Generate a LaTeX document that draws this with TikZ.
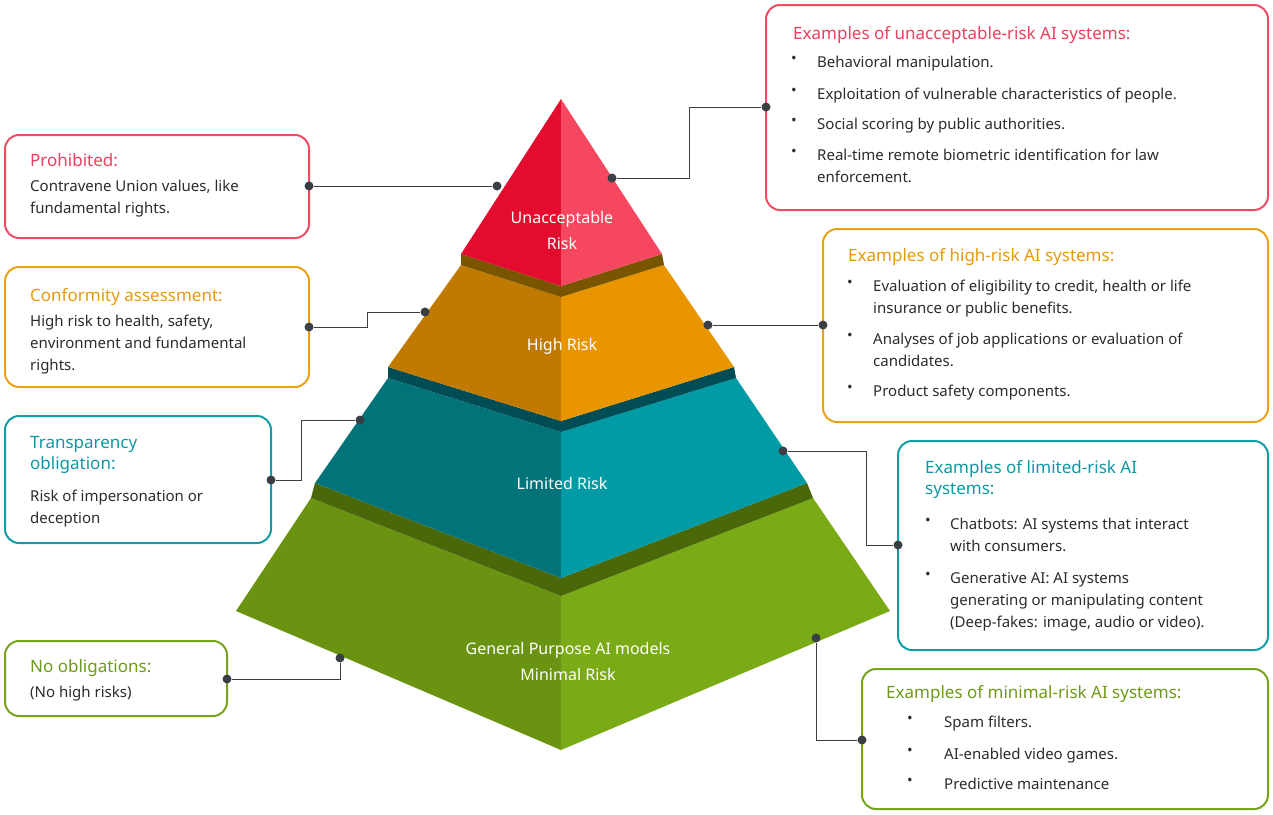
\documentclass[tikz,border=0pt]{standalone}
\usepackage{fontspec}
\setmainfont{Noto Sans}
\begin{document}
\definecolor{cR}{HTML}{EE4B66}\definecolor{cO}{HTML}{E8A21A}\definecolor{cT}{HTML}{119CA6}\definecolor{cG}{HTML}{76A41C}
\definecolor{tR}{HTML}{EE3E5E}\definecolor{tO}{HTML}{E39A0E}\definecolor{tT}{HTML}{0E97A2}\definecolor{tG}{HTML}{6D9A17}
\definecolor{ln}{HTML}{3A3F45}\definecolor{tx}{HTML}{2B2B2B}
\begin{tikzpicture}[x=1pt,y=-1pt,
 box/.style={draw=#1,line width=2pt,rounded corners=14pt},
 ttl/.style={anchor=north west,inner sep=0,font=\fontsize{17}{21}\selectfont\bfseries,text=#1,align=left},
 bd/.style={anchor=north west,inner sep=0,font=\fontsize{15}{22}\selectfont,text=tx,align=left},
 bul/.style={anchor=north west,inner sep=0,font=\fontsize{15}{22}\selectfont,text=tx},
 lbl/.style={font=\fontsize{16}{26}\selectfont\bfseries,text=white,align=center},
 con/.style={draw=ln,line width=1pt},
 dot/.style={circle,fill=ln,inner sep=0,minimum size=9pt}]
\useasboundingbox (0,0) rectangle (1273,814);
% pyramid
\fill[fill={rgb,255:red,106;green,147;blue,17}] (311,498) -- (561,596) -- (561,750) -- (236,611) -- cycle;
\fill[fill={rgb,255:red,122;green,170;blue,21}] (813,498) -- (561,596) -- (561,750) -- (890,611) -- cycle;
\fill[fill={rgb,255:red,74;green,104;blue,10}] (315,483) -- (561,578) -- (807,483) -- (813,498) -- (561,596) -- (311,498) -- cycle;
\fill[fill={rgb,255:red,3;green,115;blue,122}] (388,378) -- (561,432) -- (561,578) -- (315,483) -- cycle;
\fill[fill={rgb,255:red,0;green,155;blue,165}] (736,378) -- (561,432) -- (561,578) -- (807,483) -- cycle;
\fill[fill={rgb,255:red,0;green,77;blue,85}] (388,367) -- (561,421) -- (734,367) -- (736,378) -- (561,432) -- (388,378) -- cycle;
\fill[fill={rgb,255:red,192;green,122;blue,0}] (461,265) -- (561,297) -- (561,421) -- (388,367) -- cycle;
\fill[fill={rgb,255:red,232;green,149;blue,0}] (664,265) -- (561,297) -- (561,421) -- (734,367) -- cycle;
\fill[fill={rgb,255:red,122;green,85;blue,0}] (461,254) -- (561,286) -- (662,254) -- (664,265) -- (561,297) -- (461,265) -- cycle;
\fill[fill={rgb,255:red,227;green,11;blue,46}] (561,99) -- (561,286) -- (461,254) -- cycle;
\fill[fill={rgb,255:red,245;green,71;blue,95}] (561,99) -- (561,286) -- (662,254) -- cycle;
\node[lbl] (lu) at (562,230) {Unacceptable\\Risk};
\node[lbl] (lh) at (562,346) {High Risk};
\node[lbl] (ll) at (562,483) {Limited Risk};
\node[lbl] (lm) at (568,661) {General Purpose AI models\\Minimal Risk};
% boxes
\draw[box=cR] (5,135) rectangle (309,238);
\draw[box=cO] (5,267) rectangle (309,387);
\draw[box=cT] (5,416) rectangle (271,543);
\draw[box=cG] (5,641) rectangle (227,716);
\draw[box=cR] (766,5) rectangle (1268,210);
\draw[box=cO] (823,229) rectangle (1268,422);
\draw[box=cT] (898,441) rectangle (1268,650);
\draw[box=cG] (862,669) rectangle (1268,809);
% left texts
\node[ttl=tR] (t1) at (30,153) {Prohibited:};
\node[bd] (b1) at (30,180) {Contravene Union values, like\\fundamental rights.};
\node[ttl=tO] (t2) at (30,288) {Conformity assessment:};
\node[bd] (b2) at (30,315) {High risk to health, safety,\\environment and fundamental\\rights.};
\node[ttl=tT] (t3) at (30,436) {Transparency\\obligation:};
\node[bd] (b3) at (30,490) {Risk of impersonation or\\deception};
\node[ttl=tG] (t4) at (30,659) {No obligations:};
\node[bd] (b4) at (30,686) {(No high risks)};
% right texts
\node[ttl=tR] (t5) at (793,26) {Examples of unacceptable-risk AI systems:};
\foreach \y/\t [count=\i] in {56/Behavioral manipulation.,88/Exploitation of vulnerable characteristics of people.,118/Social scoring by public authorities.,149/{Real-time remote biometric identification for law\\enforcement.}}{
 \node[bul] (u\i) at (791,\y) {•}; \node[bd] (v\i) at (817,\y) {\t};}
\node[ttl=tO] (t6) at (848,248) {Examples of high-risk AI systems:};
\foreach \y/\t [count=\i] in {280/{Evaluation of eligibility to credit, health or life\\insurance or public benefits.},333/{Analyses of job applications or evaluation of\\candidates.},385/Product safety components.}{
 \node[bul] (h\i) at (847,\y) {•}; \node[bd] (k\i) at (873,\y) {\t};}
\node[ttl=tT] (t7) at (925,460) {Examples of limited-risk AI\\systems:};
\node[bul] (l1) at (925,518) {•}; \node[bd] (m1) at (950,518) {\textbf{Chatbots:} AI systems that interact\\with consumers.};
\node[bul] (l2) at (925,572) {•}; \node[bd] (m2) at (950,572) {\textbf{Generative AI:} AI systems\\generating or manipulating content\\(Deep-fakes: image, audio or video).};
\node[ttl=tG] (t8) at (886,685) {Examples of minimal-risk AI systems:};
\foreach \y/\t [count=\i] in {716/Spam filters.,748/AI-enabled video games.,778/Predictive maintenance}{
 \node[bul] (g\i) at (907,\y) {•}; \node[bd] (n\i) at (944,\y) {\t};}
% connectors
\node[dot] (a1) at (309,186) {}; \node[dot] (a2) at (497,186) {};
\draw[con] (a1) -- (a2);
\node[dot] (c1) at (612,178) {}; \node[dot] (c2) at (766,107) {};
\draw[con] (c1) -- (689,178) -- (689,107) -- (c2);
\node[dot] (d1) at (309,327) {}; \node[dot] (d2) at (425,312) {};
\draw[con] (d1) -- (367,327) -- (367,312) -- (d2);
\node[dot] (e1) at (708,325) {}; \node[dot] (e2) at (823,325) {};
\draw[con] (e1) -- (e2);
\node[dot] (f1) at (271,480) {}; \node[dot] (f2) at (360,420) {};
\draw[con] (f1) -- (301,480) -- (301,420) -- (f2);
\node[dot] (g01) at (783,451) {}; \node[dot] (g02) at (898,545) {};
\draw[con] (g01) -- (866,451) -- (866,545) -- (g02);
\node[dot] (p1) at (227,679) {}; \node[dot] (p2) at (340,658) {};
\draw[con] (p1) -- (340,679) -- (p2);
\node[dot] (q1) at (816,638) {}; \node[dot] (q2) at (862,740) {};
\draw[con] (q1) -- (816,740) -- (q2);
\end{tikzpicture}
\end{document}
